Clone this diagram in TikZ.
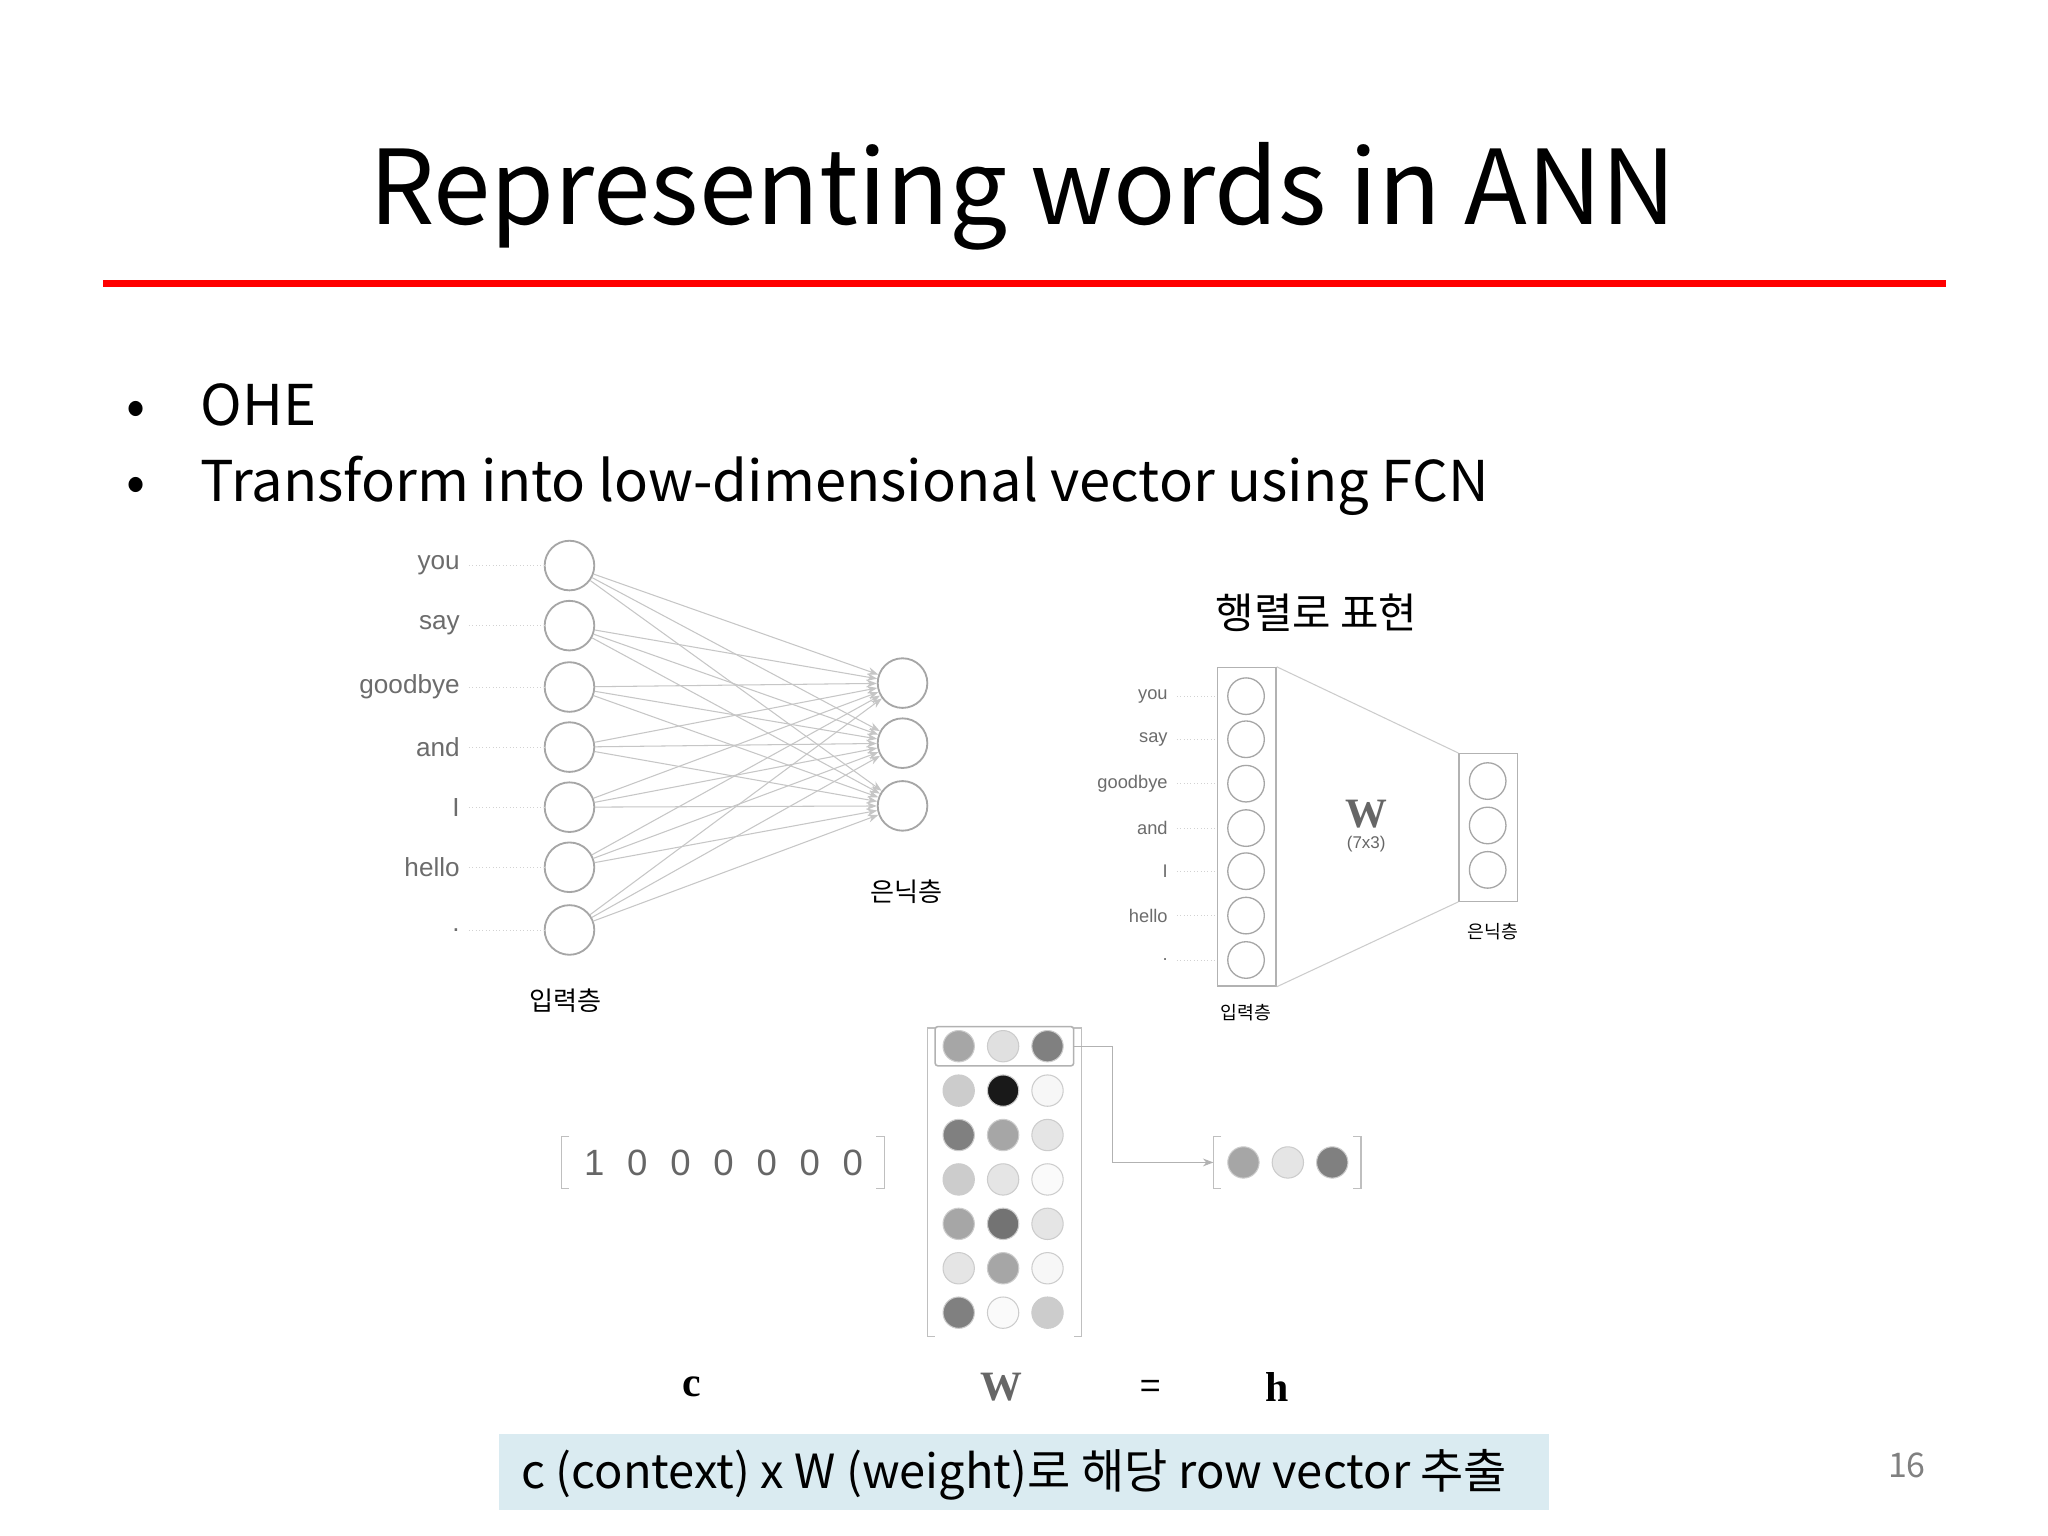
\documentclass[tikz,border=0pt]{standalone}
\usepackage{fontspec}
\setmainfont{Noto Sans CJK KR}
\newfontfamily\serifb{Liberation Serif}
\newfontfamily\lsans{Liberation Sans}
\usetikzlibrary{arrows.meta}
\definecolor{capfill}{HTML}{DAEBF1}
\begin{document}
\begin{tikzpicture}[x=0.5pt,y=-0.5pt,
 inn/.style={circle,draw=gray!70,line width=0.7pt,minimum size=19pt,inner sep=0pt},
 sinn/.style={circle,draw=gray!70,line width=0.5pt,minimum size=14pt,inner sep=0pt},
 dot/.style={circle,draw=gray!40,line width=0.4pt,minimum size=12pt,inner sep=0pt},
 lab/.style={font=\lsans\fontsize{10}{12}\selectfont,text=gray!85!black,anchor=east},
 slab/.style={font=\lsans\fontsize{7}{9}\selectfont,text=gray!85!black,anchor=east},
 edge/.style={draw=gray!45,line width=0.4pt,-{Stealth[length=4pt,width=3pt]}},
 lead/.style={draw=gray!35,line width=0.3pt,densely dotted},
 bold/.style={font=\serifb\bfseries\fontsize{16}{18}\selectfont}]
\useasboundingbox[fill=white] (0,0) rectangle (1568,1176);
\node (title) at (783,150) {\fontsize{39.5}{44}\selectfont Representing words in ANN};
\draw[red,line width=2.5pt] (79,217) -- (1490,217);
\node[anchor=west] (b1) at (90,310) {\fontsize{21.5}{24}\selectfont •\hspace{21pt}OHE};
\node[anchor=west] (b2) at (90,372) {\fontsize{21.5}{24}\selectfont •\hspace{21pt}Transform into low-dimensional vector using FCN};
% left network
\foreach \i/\y/\t in {1/433/you,2/479/say,3/526/goodbye,4/572/and,5/618/I,6/664/hello,7/712/.}{
 \node[inn] (i\i) at (436,\y) {};
 \node[lab] (l\i) at (359,\y) {\t};
 \draw[lead] (l\i.east) -- (i\i.west);
}
\foreach \j/\y in {1/523,2/569,3/617}{\node[inn] (o\j) at (691,\y) {};}
\foreach \i in {1,...,7}{\foreach \j in {1,2,3}{\draw[edge] (i\i) -- (o\j);}}
\node (hid) at (694,683) {\fontsize{10}{12}\selectfont 은닉층};
\node (inp) at (433,766) {\fontsize{10}{12}\selectfont 입력층};
% matrix diagram
\node (mt) at (1008,469) {\fontsize{16}{18}\selectfont 행렬로 표현};
\node[draw=gray!60,line width=0.5pt,minimum width=22.5pt,minimum height=122pt,inner sep=0pt] (ib) at (954.5,633) {};
\foreach \i/\y/\t in {1/533/you,2/566/say,3/600/goodbye,4/634/and,5/667/I,6/701/hello,7/735/.}{
 \node[sinn] (s\i) at (954,\y) {};
 \node[slab] (sl\i) at (901,\y) {\t};
 \draw[lead] (sl\i.east) -- (ib.west |- s\i);
}
\node[draw=gray!60,line width=0.5pt,minimum width=22.5pt,minimum height=56.5pt,inner sep=0pt] (ob) at (1139.5,633.5) {};
\foreach \j/\y in {1/598,2/632,3/666}{\node[sinn] (so\j) at (1139,\y) {};}
\draw[gray!40,line width=0.4pt] (ib.north east) -- (ob.north west);
\draw[gray!40,line width=0.4pt] (ib.south east) -- (ob.south west);
\node[font=\serifb\bfseries\fontsize{16}{18}\selectfont,text=gray!80!black] (wl) at (1046,623) {W};
\node[font=\lsans\fontsize{6.5}{8}\selectfont,text=gray!80!black] (wd) at (1046,646) {(7x3)};
\node (hid2) at (1143,713) {\fontsize{7}{9}\selectfont 은닉층};
\node (inp2) at (954,775) {\fontsize{7}{9}\selectfont 입력층};
% bottom vector
\draw[gray!50,line width=0.5pt] (436,870) -- (430,870) -- (430,910) -- (436,910);
\draw[gray!50,line width=0.5pt] (671,870) -- (677,870) -- (677,910) -- (671,910);
\foreach \x/\d [count=\k] in {455/1,488/0,521/0,554/0,587/0,620/0,653/0}{
 \node[text=gray!80!black] (v\k) at (\x,890) {\lsans\fontsize{14}{16}\selectfont \d};
}
% matrix W
\draw[gray!50,line width=0.5pt] (716,787) -- (710,787) -- (710,1023) -- (716,1023);
\draw[gray!50,line width=0.5pt] (822,787) -- (828,787) -- (828,1023) -- (822,1023);
\def\shades{{"black!35","black!12","black!50","black!20","black!90","black!3","black!50","black!35","black!10","black!20","black!10","black!2","black!35","black!55","black!10","black!10","black!35","black!3","black!50","black!2","black!20"}}
\foreach \r/\y in {0/801,1/835,2/869,3/903,4/937,5/971,6/1005}{
 \foreach \c/\x in {0/734,1/768,2/802}{
  \pgfmathsetmacro\idx{int(\r*3+\c)}
  \pgfmathparse{\shades[\idx]}\edef\sh{\pgfmathresult}
  \node[dot,fill=\sh] (m\r\c) at (\x,\y) {};
 }
}
\node[draw=gray!60,line width=0.6pt,rounded corners=1pt,minimum width=53pt,minimum height=15pt,inner sep=0pt] (hl) at (769,801) {};
% result
\draw[gray!50,line width=0.5pt] (935,870) -- (929,870) -- (929,910) -- (935,910);
\draw[gray!50,line width=0.5pt] (1036,870) -- (1042,870) -- (1042,910) -- (1036,910);
\node[dot,fill=black!35] (h0) at (952,890) {};
\node[dot,fill=black!10] (h1) at (986,890) {};
\node[dot,fill=black!50] (h2) at (1020,890) {};
\coordinate (rt) at (929,890);
\draw[gray!60,line width=0.4pt,-{Stealth[length=4pt,width=3pt]}] (hl.east) -- (852,801) -- (852,890) -- (rt);
% labels
\node[bold] (cl) at (530,1062) {c};
\node[bold,text=gray!80!black] (Wl) at (767,1062) {W};
\node[bold,font=\fontsize{14}{16}\selectfont] (eq) at (881,1064) {=};
\node[bold] (hl2) at (978,1062) {h};
% caption
\node[fill=capfill,minimum width=402pt,minimum height=29pt,inner sep=0pt] (cap) at (784,1127) {};
\node[anchor=west] (capt) at (392,1129) {\fontsize{18}{20}\selectfont c (context) x W (weight)로 해당 row vector 추출};
\node[text=gray] (pg) at (1460,1122) {\fontsize{13}{15}\selectfont 16};
\end{tikzpicture}
\end{document}
